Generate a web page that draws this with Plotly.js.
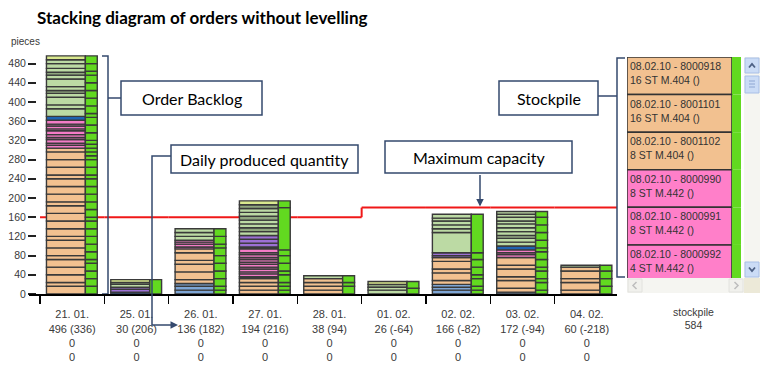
<!DOCTYPE html>
<html><head><meta charset="utf-8">
<script src="https://cdn.plot.ly/plotly-3.0.1.min.js"></script>
<style>html,body{margin:0;padding:0;background:#fff}#chart{width:768px;height:371px}</style>
</head><body><div id="chart"></div>
<script>
// ---------- data ----------
const dates    = ['21. 01.','25. 01.','26. 01.','27. 01.','28. 01.','01. 02.','02. 02.','03. 02.','04. 02.'];
const totals   = [496, 30, 136, 194, 38, 26, 166, 172, 60];
const balance  = [336, 206, 182, 216, 94, -64, -82, -94, -218];
const row3     = [0, 0, 0, 0, 0, 0, 0, 0, 0];
const row4     = [0, 0, 0, 0, 0, 0, 0, 0, 0];
const capacity = [160, 160, 160, 160, 160, 180, 180, 180, 180];

// order segments per day, bottom to top: [material group, order sizes]
const orders2101 = [['O',[16,8,16,16,16,8,16,16,8,16,16,16,16,8,16,16,16,8,16,16,16,8]],
                    ['P',[6,4,8,4,6,8,4,6,4,8]], ['B',[8]], ['G',[16,8,16,8]], ['D',[6]],
                    ['G',[8,16,8]], ['D',[6]], ['G',[8,10,8]], ['Y',[8]]];
const orders2501 = [['B',[4]], ['V',[6,4]], ['G',[6]], ['D',[4]], ['Y',[6]]];
const orders2601 = [['L',[8,8,6]], ['O',[8,16,16,8,16,8]], ['P',[4,6,4,4]], ['G',[8,8,8]]];
const orders2701 = [['O',[8,8,8,8]], ['K',[4]], ['P',[6,4,6,4,6,4,6,4,6,4,8]], ['K',[4]], ['V',[8,8,8]],
                    ['G',[8]], ['D',[8]], ['G',[8,8]], ['D',[8]], ['G',[8,8]], ['D',[8]], ['Y',[8]]];
const orders2801 = [['O',[8,8,8,8]], ['G',[6]]];
const orders0102 = [['G',[8,6]], ['D',[6]], ['Y',[6]]];
const orders0202 = [['L',[8,6,6]], ['O',[8,16,8,16,8]], ['V',[4,6]], ['G',[42]], ['G',[8,8,8,6,8]]];
const orders0302 = [['L',[4]], ['O',[8,16,8,16,8,16]], ['P',[6,4,6]], ['B',[8]], ['G',[8,8,6,8,8,8,6,8,6,6]]];
const orders0402 = [['O',[8,16,8,16,8]], ['G',[4]]];
const ordersByDay = [orders2101, orders2501, orders2601, orders2701, orders2801, orders0102, orders0202, orders0302, orders0402];

// produced quantity (green column) segments per day, bottom to top
const green2101 = [16,16,16,16,8,16,16,16,16,16,8,16,16,16,16,16,8,16,16,8,8,8,8,8,16,16,16,8,16,16,16,16,16,8,16,16];
const green2501 = [30];
const green2601 = [8,8,16,16,16,16,16,8,16,16];
const green2701 = [8,8,8,16,8,16,16,12,88,14];
const green2801 = [16,8,14];
const green0102 = [12,14];
const green0202 = [8,8,16,8,16,16,14,80];
const green0302 = [8,16,8,16,8,16,16,8,16,16,16,16,12];
const green0402 = [16,16,16,12];
const greenByDay = [green2101, green2501, green2601, green2701, green2801, green0102, green0202, green0302, green0402];

// stockpile list
const stockDates  = ['08.02.10','08.02.10','08.02.10','08.02.10','08.02.10','08.02.10'];
const stockOrders = ['8000918','8001101','8001102','8000990','8000991','8000992'];
const stockQty    = [16, 16, 8, 8, 8, 4];
const stockMat    = ['M.404','M.404','M.404','M.442','M.442','M.442'];
const stockTotal  = 584;

// ---------- styles ----------
const matColors = {O:'#F2C190', P:'#F47CC6', G:'#BCDAA4', D:'#8FA67E', Y:'#D9E88E',
                   B:'#1F63B0', L:'#7EA6D6', V:'#9C70D4', K:'#3C3C3C'};
const stockColors = {'M.404':'#F2C190', 'M.442':'#FF7FC9'};
const GREEN = '#62D920';
const SEG_LINE = {color:'#3a3a3a', width:1.4};
const NAVY = '#34496E';
const TICKFONT = {family:'Liberation Sans, Arial, sans-serif', size:11, color:'#3a3a3a'};
const BOXFONT = {family:'Lato, sans-serif', size:16, color:'#000'};

// pixel -> paper helpers (plot area l=37, t=54, w=723, h=240)
const px = x => (x - 37) / 723;
const py = y => (294 - y) / 240;

// ---------- traces ----------
const ox = [], oy = [], ob = [], oc = [];
ordersByDay.forEach((groups, i) => {
  let cum = 0;
  groups.forEach(([g, sizes]) => sizes.forEach(s => {
    ox.push(dates[i]); oy.push(s); ob.push(cum); oc.push(matColors[g]); cum += s;
  }));
});
const gx = [], gy = [], gb = [];
greenByDay.forEach((sizes, i) => {
  let cum = 0;
  sizes.forEach(s => { gx.push(dates[i]); gy.push(s); gb.push(cum); cum += s; });
});

const traces = [
  {type:'bar', x:ox, y:oy, base:ob, offset:-0.4, width:0.605,
   marker:{color:oc, line:SEG_LINE}, hoverinfo:'skip', xaxis:'x', yaxis:'y'},
  {type:'bar', x:gx, y:gy, base:gb, offset:0.205, width:0.185,
   marker:{color:GREEN, line:SEG_LINE}, hoverinfo:'skip', xaxis:'x', yaxis:'y'},
  {type:'bar', x:stockOrders.map(() => 'stockpile'), y:stockQty.map(() => 1),
   base:stockQty.map((q, i) => i), offset:-0.5, width:0.789,
   marker:{color:stockMat.map(m => stockColors[m]), line:{color:'#333', width:1.5}},
   hoverinfo:'skip', xaxis:'x2', yaxis:'y2'},
  {type:'bar', x:stockOrders.map(() => 'stockpile'), y:stockQty.map(() => 1),
   base:stockQty.map((q, i) => i), offset:0.289, width:0.068,
   marker:{color:GREEN, line:{width:0}},
   hoverinfo:'skip', xaxis:'x2', yaxis:'y2'}
];

// ---------- shapes ----------
const shapes = [];
const L = (x0, y0, x1, y1, color = NAVY, w = 1.5) =>
  ({type:'line', xref:'paper', yref:'paper', x0:px(x0), y0:py(y0), x1:px(x1), y1:py(y1), line:{color, width:w}, layer:'above'});
const R = (x0, y0, x1, y1, fill, lc = NAVY, w = 1.5) =>
  ({type:'rect', xref:'paper', yref:'paper', x0:px(x0), y0:py(y0), x1:px(x1), y1:py(y1), fillcolor:fill, line:{color:lc, width:w}, layer:'above'});
const P = (pts, color = NAVY, w = 1.5) =>
  ({type:'path', xref:'paper', yref:'paper', path:pts.map((p, k) => (k ? 'L' : 'M') + px(p[0]) + ',' + py(p[1])).join(' '), line:{color, width:w}, layer:'above'});

// capacity step line (behind bars)
capacity.forEach((c, i) => {
  shapes.push({type:'line', xref:'x', yref:'y', x0:i - 0.5, x1:i + 0.5, y0:c, y1:c, line:{color:'#F01818', width:2}, layer:'below'});
  if (i > 0 && capacity[i - 1] !== c)
    shapes.push({type:'line', xref:'x', yref:'y', x0:i - 0.5, x1:i - 0.5, y0:capacity[i - 1], y1:c, line:{color:'#F01818', width:2}, layer:'below'});
});
// axis baseline extension under y ticks
shapes.push(L(29, 295, 37, 295, '#000', 2));

// order backlog bracket (spans first bar)
shapes.push({type:'path', xref:'paper', yref:'y', layer:'above', line:{color:NAVY, width:1.5},
  path:`M${px(102)},${totals[0]} L${px(108)},${totals[0]} L${px(108)},0 L${px(102)},0`});
shapes.push(L(108, 98, 121, 98));
// boxes
shapes.push(R(121, 81, 262, 115, '#fff'));
shapes.push(R(171, 145, 358, 173, '#fff'));
shapes.push(R(385, 141, 572, 173, '#fff'));
shapes.push(R(499, 81, 598, 115, '#fff'));
// daily produced connector
shapes.push(P([[171, 156], [152, 156], [152, 325], [172, 325]]));
// stockpile bracket
shapes.push(P([[625, 58], [617, 58], [617, 277], [625, 277]]));
shapes.push(L(617, 96, 598, 96));
// scrollbars
shapes.push(R(744, 57, 760, 278, '#F5F5F1', '#F5F5F1', 0));
shapes.push(R(745, 58, 759, 73, '#CBDCF6', '#A8BFE6', 1));
shapes.push(P([[749, 67.5], [752, 64], [755, 67.5]], '#4D6185', 1.8));
shapes.push(R(745, 76, 759, 93, '#CBDCF6', '#A8BFE6', 1));
[81, 84, 87].forEach(y => shapes.push(L(749, y, 755, y, '#8EA6D2', 1)));
shapes.push(R(745, 262, 759, 277, '#CBDCF6', '#A8BFE6', 1));
shapes.push(P([[749, 267.5], [752, 271], [755, 267.5]], '#4D6185', 1.8));
shapes.push(R(627, 278, 744, 293, '#F5F5F1', '#F5F5F1', 0));
shapes.push(R(628, 279, 642, 292, '#F1F1ED', '#E2E2DE', 1));
shapes.push(P([[636.5, 282], [633, 285.5], [636.5, 289]], '#BDBDBD', 1.5));
shapes.push(R(729, 279, 743, 292, '#F1F1ED', '#E2E2DE', 1));
shapes.push(P([[734.5, 282], [738, 285.5], [734.5, 289]], '#BDBDBD', 1.5));
shapes.push(R(744, 278, 760, 293, '#ECE9D8', '#ECE9D8', 0));

// ---------- annotations ----------
const C = {xanchor:'center', yanchor:'middle', showarrow:false, xref:'paper', yref:'paper'};
const annotations = [
  {...C, x:px(25), y:py(42), text:'pieces',
   font:{family:'Liberation Sans, Arial, sans-serif', size:10, color:'#3a3a3a'}},
  {...C, x:px(191.5), y:py(98), text:'Order Backlog', font:BOXFONT},
  {...C, x:px(264.5), y:py(159), text:'Daily produced quantity', font:BOXFONT},
  {...C, x:px(478.5), y:py(157), text:'Maximum capacity', font:BOXFONT},
  {...C, x:px(548.5), y:py(98), text:'Stockpile', font:BOXFONT},
  {xref:'paper', yref:'y', x:px(480), y:capacity[6], text:'', showarrow:true, ax:0, ay:-34,
   arrowhead:2, arrowsize:1, arrowwidth:1.5, arrowcolor:NAVY, standoff:1},
  {xref:'paper', yref:'paper', x:px(178), y:py(325), text:'', showarrow:true, ax:-8, ay:0,
   arrowhead:2, arrowsize:1, arrowwidth:1.5, arrowcolor:NAVY}
];
stockOrders.forEach((o, i) => annotations.push({
  xref:'x2', yref:'y2', x:-0.5, y:i, xanchor:'left', yanchor:'top', xshift:1, yshift:-1, align:'left',
  text:`${stockDates[i]} - ${o}<br>${stockQty[i]} ST ${stockMat[i]} ()`, showarrow:false,
  font:{family:'Liberation Sans, Arial, sans-serif', size:10.5, color:'#333'}
}));

// ---------- layout ----------
const layout = {
  width:768, height:371,
  margin:{l:37, r:8, t:54, b:77, pad:0},
  paper_bgcolor:'#fff', plot_bgcolor:'#fff',
  showlegend:false, barmode:'overlay', hovermode:false,
  title:{text:'<b>Stacking diagram of orders without levelling</b>', xref:'container', yref:'container',
         x:37/768, xanchor:'left', y:1 - 18/371, yanchor:'middle',
         font:{family:'Lato, sans-serif', size:17, color:'#000'}},
  xaxis:{type:'category', domain:[0, px(617)], range:[-0.547, 8.47], anchor:'y',
         tickmode:'array', tickvals:dates,
         ticktext:dates.map((d, i) => `${d}<br>${totals[i]} (${balance[i]})<br>${row3[i]}<br>${row4[i]}`),
         tickson:'boundaries', ticks:'outside', ticklen:8, tickwidth:1.5, tickcolor:'#000',
         ticklabelstandoff:9,
         showline:true, linecolor:'#000', linewidth:2, showgrid:false, zeroline:false,
         tickfont:TICKFONT, fixedrange:true},
  yaxis:{range:[0, 500], dtick:40, tick0:0, ticks:'outside', ticklen:8, tickwidth:2, tickcolor:'#222',
         showline:false, showgrid:false, zeroline:false, tickfont:{...TICKFONT, size:10.5}, fixedrange:true},
  xaxis2:{type:'category', domain:[px(627), 1], range:[-0.5, 0.5], anchor:'free', position:0,
          tickmode:'array', tickvals:['stockpile'], ticktext:[`stockpile<br>${stockTotal}`],
          ticks:'outside', ticklen:8, tickcolor:'rgba(0,0,0,0)', ticklabelstandoff:0,
          showline:false, showgrid:false,
          zeroline:false, tickfont:{...TICKFONT, size:10.5}, fixedrange:true},
  yaxis2:{domain:[py(278), py(57)], range:[5.88, 0], anchor:'x2', visible:false, fixedrange:true},
  shapes, annotations
};

Plotly.newPlot('chart', traces, layout, {staticPlot:true, displayModeBar:false});
</script></body></html>
